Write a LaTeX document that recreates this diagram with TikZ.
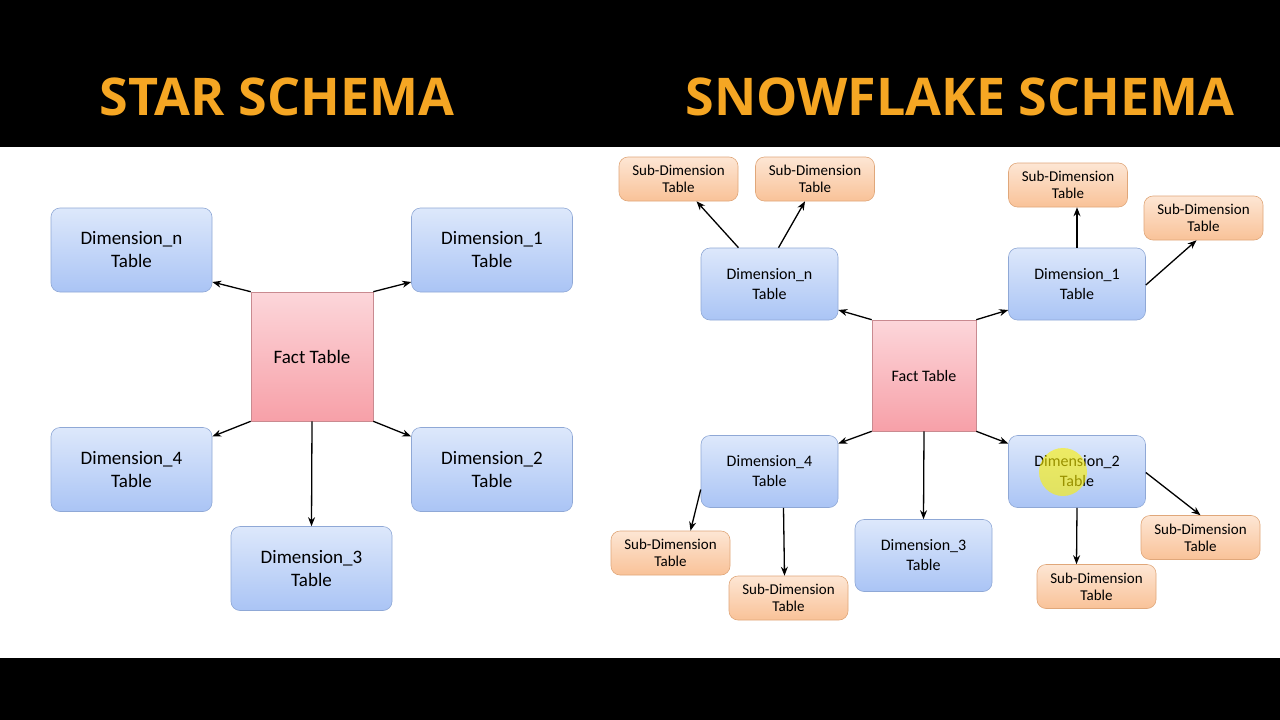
\documentclass[tikz,border=0pt]{standalone}
\usepackage{fontspec}
\setmainfont{Carlito}
\newfontfamily\titlefont{Open Sans}
\usetikzlibrary{arrows.meta}
\definecolor{ttl}{HTML}{F5A623}
\definecolor{bbor}{HTML}{8FA8D6}
\definecolor{btop}{HTML}{DDE8FB}
\definecolor{bbot}{HTML}{AAC4F5}
\definecolor{obor}{HTML}{E0A77A}
\definecolor{otop}{HTML}{FDE6D4}
\definecolor{obot}{HTML}{F9C298}
\definecolor{fbor}{HTML}{C98A90}
\definecolor{ftop}{HTML}{FCD6DA}
\definecolor{fbot}{HTML}{F7A0A8}
\begin{document}
\begin{tikzpicture}[x=1pt,y=-1pt,
 box/.style={rounded corners=9pt, align=center, inner sep=0pt, line width=0.6pt},
 dim/.style={box, draw=bbor, top color=btop, bottom color=bbot, minimum width=161pt, minimum height=84pt, font=\fontsize{19}{23}\selectfont},
 dimr/.style={box, draw=bbor, top color=btop, bottom color=bbot, minimum width=137pt, minimum height=72pt, font=\fontsize{16}{20}\selectfont},
 sub/.style={box, draw=obor, top color=otop, bottom color=obot, minimum width=119pt, minimum height=44pt, font=\fontsize{15}{17}\selectfont},
 fact/.style={draw=fbor, top color=ftop, bottom color=fbot, align=center, inner sep=0pt, line width=0.6pt},
 arr/.style={-{Stealth[length=9pt,width=7pt]}, line width=1.3pt}]
\fill[black] (0,0) rectangle (1280,147);
\fill[white] (0,147) rectangle (1280,658);
\fill[black] (0,658) rectangle (1280,720);
\useasboundingbox (0,0) rectangle (1280,720);
\node[text=ttl, font=\titlefont\bfseries\fontsize{52}{56}\selectfont] (t1) at (277,97) {STAR SCHEMA};
\node[text=ttl, font=\titlefont\bfseries\fontsize{52}{56}\selectfont] (t2) at (960,97) {SNOWFLAKE SCHEMA};
% left
\node[fact, minimum width=122pt, minimum height=129pt, font=\fontsize{19}{20}\selectfont] (F) at (312,356.5) {Fact Table};
\node[dim] (Dn) at (131.5,250) {Dimension\_n\\Table};
\node[dim] (D1) at (492,250) {Dimension\_1\\Table};
\node[dim] (D4) at (131.5,469.5) {Dimension\_4\\Table};
\node[dim] (D2) at (492,469.5) {Dimension\_2\\Table};
\node[dim] (D3) at (311.5,568.5) {Dimension\_3\\Table};
\draw[arr] (F.north west) -- ([yshift=-32pt]Dn.east);
\draw[arr] (F.north east) -- ([yshift=-32pt]D1.west);
\draw[arr] (F.south west) -- ([yshift=33pt]D4.east);
\draw[arr] (F.south east) -- ([yshift=33pt]D2.west);
\draw[arr] (F.south) -- (D3.north);
% right
\node[fact, minimum width=104pt, minimum height=111pt, font=\fontsize{16}{20}\selectfont] (RF) at (924,375.5) {Fact Table};
\node[dimr] (RDn) at (769.5,284) {Dimension\_n\\Table};
\node[dimr] (RD1) at (1077,284) {Dimension\_1\\Table};
\node[dimr] (RD4) at (769.5,471.5) {Dimension\_4\\Table};
\node[dimr] (RD2) at (1077,471.5) {Dimension\_2\\Table};
\node[dimr] (RD3) at (923.5,555.5) {Dimension\_3\\Table};
\node[sub] (S1) at (678.5,179) {Sub-Dimension\\Table};
\node[sub] (S2) at (815,179) {Sub-Dimension\\Table};
\node[sub] (S3) at (1068,185) {Sub-Dimension\\Table};
\node[sub] (S4) at (1203.5,218) {Sub-Dimension\\Table};
\node[sub] (S5) at (670.5,553) {Sub-Dimension\\Table};
\node[sub] (S6) at (788.5,598) {Sub-Dimension\\Table};
\node[sub] (S7) at (1096.5,586.5) {Sub-Dimension\\Table};
\node[sub] (S8) at (1200.5,537.5) {Sub-Dimension\\Table};
\draw[arr] (RF.north west) -- ([yshift=-26pt]RDn.east);
\draw[arr] (RF.north east) -- ([yshift=-26pt]RD1.west);
\draw[arr] (RF.south west) -- ([yshift=28pt]RD4.east);
\draw[arr] (RF.south east) -- ([yshift=28pt]RD2.west);
\draw[arr] (RF.south) -- (RD3.north);
\draw[arr] ([xshift=-31pt]RDn.north) -- ([xshift=18pt]S1.south);
\draw[arr] ([xshift=9pt]RDn.north) -- ([xshift=-10pt]S2.south);
\draw[arr] (RD1.north) -- ([xshift=9pt]S3.south);
\draw[arr] ([yshift=-1pt]RD1.east) -- ([xshift=-7pt]S4.south);
\draw[arr] ([yshift=-18pt]RD4.west) -- ([xshift=20pt]S5.north);
\draw[arr] ([xshift=14pt]RD4.south) -- ([xshift=-4pt]S6.north);
\draw[arr] (RD2.south) -- ([xshift=-20pt]S7.north);
\draw[arr] ([yshift=-1pt]RD2.east) -- (S8.north);
\fill[yellow, opacity=0.6] (1063,472) circle (24);
\end{tikzpicture}
\end{document}
